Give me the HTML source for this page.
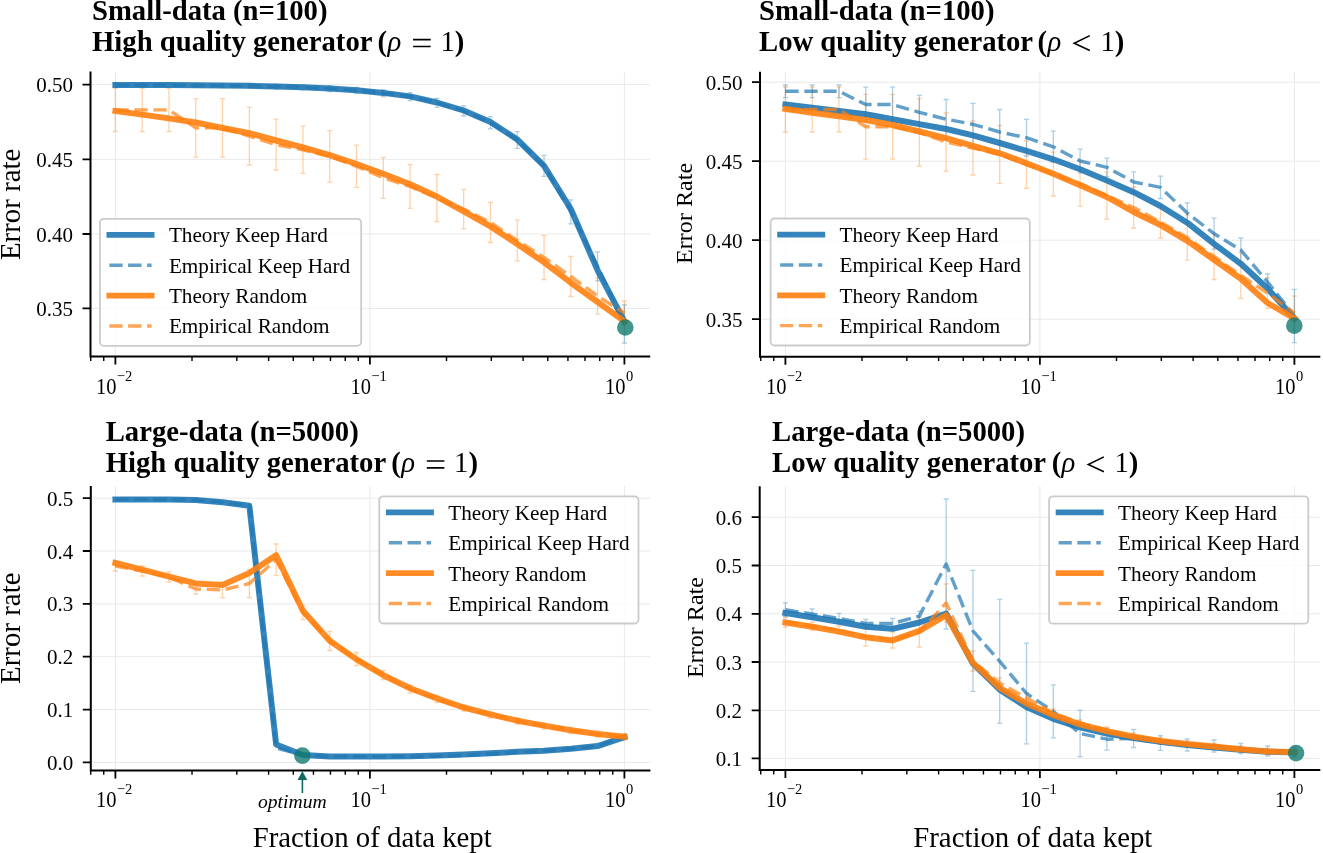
<!DOCTYPE html>
<html><head><meta charset="utf-8"><style>
html,body{margin:0;padding:0;background:#fff;}
svg{display:block;will-change:transform;}
text{font-family:"Liberation Serif",serif;fill:#000;}
.tk{font-size:20.5px;}
.tky{font-size:21px;}
.sup{font-size:14.5px;}
.lg{font-size:21.2px;}
.ti{font-size:28.7px;font-weight:bold;}
.mi{font-style:italic;font-weight:normal;}
.mr{font-weight:normal;}
.xl{font-size:28.8px;}
.opt{font-size:19.6px;font-style:italic;}
</style></head><body>
<svg width="1323" height="853" viewBox="0 0 1323 853">
<rect width="1323" height="853" fill="#fff"/>

<g stroke="#e9e9e9" stroke-width="1"><line x1="115.4" y1="71.5" x2="115.4" y2="356.5"/><line x1="369.9" y1="71.5" x2="369.9" y2="356.5"/><line x1="624.4" y1="71.5" x2="624.4" y2="356.5"/><line x1="90.5" y1="84.6" x2="650.2" y2="84.6"/><line x1="90.5" y1="159.3" x2="650.2" y2="159.3"/><line x1="90.5" y1="234" x2="650.2" y2="234"/><line x1="90.5" y1="308.4" x2="650.2" y2="308.4"/></g>
<path d="M115.4 88.3V131.5M112.9 88.3h5M112.9 131.5h5M142.19 88.3V131.5M139.69 88.3h5M139.69 131.5h5M168.98 88.3V131.5M166.48 88.3h5M166.48 131.5h5M195.77 98.7V157.1M193.27 98.7h5M193.27 157.1h5M222.56 98.7V157.1M220.06 98.7h5M220.06 157.1h5M249.35 107.4V165M246.85 107.4h5M246.85 165h5M276.14 119.2V170M273.64 119.2h5M273.64 170h5M302.93 126.2V173.4M300.43 126.2h5M300.43 173.4h5M329.72 130.7V182.1M327.22 130.7h5M327.22 182.1h5M356.51 145.2V187.4M354.01 145.2h5M354.01 187.4h5M383.3 157.4V198.4M380.8 157.4h5M380.8 198.4h5M410.09 164.6V208.4M407.59 164.6h5M407.59 208.4h5M436.88 174.5V221.5M434.38 174.5h5M434.38 221.5h5M463.67 189.3V228.7M461.17 189.3h5M461.17 228.7h5M490.46 202.5V242.5M487.96 202.5h5M487.96 242.5h5M517.25 220.1V260.9M514.75 220.1h5M514.75 260.9h5M544.04 235.5V279.5M541.54 235.5h5M541.54 279.5h5M570.83 256.5V296.5M568.33 256.5h5M568.33 296.5h5M597.62 277.8V314.2M595.12 277.8h5M595.12 314.2h5M624.41 301V325M621.91 301h5M621.91 325h5" stroke="#ff7f0e" stroke-opacity="0.36" stroke-width="1.3" fill="none"/>
<path d="M115.4 83.2V87.2M112.9 83.2h5M112.9 87.2h5M142.19 83.2V87.2M139.69 83.2h5M139.69 87.2h5M168.98 83.3V87.3M166.48 83.3h5M166.48 87.3h5M195.77 83.4V87.4M193.27 83.4h5M193.27 87.4h5M222.56 83.6V87.6M220.06 83.6h5M220.06 87.6h5M249.35 84V88M246.85 84h5M246.85 88h5M276.14 84.1V89.1M273.64 84.1h5M273.64 89.1h5M302.93 84.9V89.9M300.43 84.9h5M300.43 89.9h5M329.72 85.6V91.6M327.22 85.6h5M327.22 91.6h5M356.51 87.4V93.4M354.01 87.4h5M354.01 93.4h5M383.3 89.6V96.6M380.8 89.6h5M380.8 96.6h5M410.09 92.6V100.6M407.59 92.6h5M407.59 100.6h5M436.88 98.3V107.3M434.38 98.3h5M434.38 107.3h5M463.67 106V116M461.17 106h5M461.17 116h5M490.46 116.7V128.9M487.96 116.7h5M487.96 128.9h5M517.25 131.7V148.3M514.75 131.7h5M514.75 148.3h5M544.04 155.4V176.4M541.54 155.4h5M541.54 176.4h5M570.83 199.8V223.8M568.33 199.8h5M568.33 223.8h5M597.62 251.9V280.9M595.12 251.9h5M595.12 280.9h5M624.41 305V343M621.91 305h5M621.91 343h5" stroke="#1f77b4" stroke-opacity="0.36" stroke-width="1.3" fill="none"/>
<polyline points="115.4,85 142.19,85 168.98,85.1 195.77,85.2 222.56,85.4 249.35,85.8 276.14,86.4 302.93,87.2 329.72,88.4 356.51,90.2 383.3,92.9 410.09,96.4 436.88,102.5 463.67,110.5 490.46,121.9 517.25,139.5 544.04,165.9 570.83,209 597.62,270.4 624.41,321.4" fill="none" stroke="#1f77b4" stroke-opacity="0.9" stroke-width="6" stroke-linecap="square" stroke-linejoin="round"/>
<polyline points="115.4,85.2 142.19,85.2 168.98,85.3 195.77,85.4 222.56,85.6 249.35,86 276.14,86.6 302.93,87.4 329.72,88.6 356.51,90.4 383.3,93.1 410.09,96.6 436.88,102.8 463.67,111 490.46,122.8 517.25,140 544.04,165.9 570.83,211.8 597.62,266.4 624.41,324" fill="none" stroke="#1f77b4" stroke-opacity="0.7" stroke-width="3.4" stroke-dasharray="13.3 5.7" stroke-linejoin="round"/>
<polyline points="115.4,111 142.19,114.6 168.98,118.4 195.77,122.5 222.56,128 249.35,133.2 276.14,140.5 302.93,147.3 329.72,155.2 356.51,164 383.3,173.7 410.09,184.3 436.88,196.6 463.67,211.4 490.46,226.4 517.25,244 544.04,262.4 570.83,282.7 597.62,302 624.41,321.4" fill="none" stroke="#ff7f0e" stroke-opacity="0.9" stroke-width="6" stroke-linecap="square" stroke-linejoin="round"/>
<polyline points="115.4,109.9 142.19,109.9 168.98,109.9 195.77,127.9 222.56,127.9 249.35,136.2 276.14,144.6 302.93,149.8 329.72,156.4 356.51,166.3 383.3,177.9 410.09,186.5 436.88,198 463.67,209 490.46,222.5 517.25,240.5 544.04,257.5 570.83,276.5 597.62,296 624.41,313" fill="none" stroke="#ff7f0e" stroke-opacity="0.7" stroke-width="3.4" stroke-dasharray="13.3 5.7" stroke-linejoin="round"/>
<circle cx="625.3" cy="327.5" r="8.3" fill="#127a70" fill-opacity="0.8"/>
<path d="M90.5 71.5V356.5 H650.2" fill="none" stroke="#000" stroke-width="2"/>
<path d="M90.5 84.6h-8M90.5 159.3h-8M90.5 234h-8M90.5 308.4h-8M115.4 356.5v8M369.9 356.5v8M624.4 356.5v8" stroke="#000" stroke-width="1.8" fill="none"/>
<path d="M90.74 356.5v4.4M103.75 356.5v4.4M192.01 356.5v4.4M236.83 356.5v4.4M268.62 356.5v4.4M293.29 356.5v4.4M313.44 356.5v4.4M330.48 356.5v4.4M345.24 356.5v4.4M358.25 356.5v4.4M446.51 356.5v4.4M491.33 356.5v4.4M523.12 356.5v4.4M547.79 356.5v4.4M567.94 356.5v4.4M584.98 356.5v4.4M599.74 356.5v4.4M612.75 356.5v4.4" stroke="#000" stroke-width="1.4" fill="none"/>
<text x="72.9" y="92.1" text-anchor="end" class="tky">0.50</text>
<text x="72.9" y="166.8" text-anchor="end" class="tky">0.45</text>
<text x="72.9" y="241.5" text-anchor="end" class="tky">0.40</text>
<text x="72.9" y="315.9" text-anchor="end" class="tky">0.35</text>
<text transform="translate(116.4 393.5) scale(1 1.08)" text-anchor="end" class="tk">10</text>
<text transform="translate(116.9 380.5) scale(1 1.06)" class="sup">−2</text>
<text transform="translate(370.9 393.5) scale(1 1.08)" text-anchor="end" class="tk">10</text>
<text transform="translate(371.4 380.5) scale(1 1.06)" class="sup">−1</text>
<text transform="translate(625.4 393.5) scale(1 1.08)" text-anchor="end" class="tk">10</text>
<text transform="translate(625.9 380.5) scale(1 1.06)" class="sup">0</text>
<text transform="translate(19.5 204.3) rotate(-90)" text-anchor="middle" style="font-size:28.9px">Error rate</text>
<text x="92" y="20" class="ti">Small-data (n=100)</text>
<text x="92" y="51" class="ti">High quality generator</text>
<text x="377.6" y="51" class="ti">(</text>
<text x="387.5" y="51" class="ti mi">ρ</text>
<path d="M413.1 39.7h17.6M413.1 46.5h17.6" stroke="#000" stroke-width="1.7"/>
<text x="440.4" y="51" class="ti mr">1</text>
<text x="454.7" y="51" class="ti">)</text>
<rect x="99.9" y="218.8" width="261.3" height="127" rx="4" fill="#fff" fill-opacity="0.8" stroke="#cbcbcb" stroke-width="1.8"/>
<line x1="106.5" y1="234.9" x2="154.5" y2="234.9" stroke="#1f77b4" stroke-opacity="0.9" stroke-width="5.8"/>
<text x="168.9" y="242.3" class="lg">Theory Keep Hard</text>
<path d="M109.4 265.25h13.2M128.1 265.25h13.4M147.1 265.25h4.5" stroke="#1f77b4" stroke-opacity="0.7" stroke-width="3.4"/>
<text x="168.9" y="272.65" class="lg">Empirical Keep Hard</text>
<line x1="106.5" y1="295.6" x2="154.5" y2="295.6" stroke="#ff7f0e" stroke-opacity="0.9" stroke-width="5.8"/>
<text x="168.9" y="303" class="lg">Theory Random</text>
<path d="M109.4 325.95h13.2M128.1 325.95h13.4M147.1 325.95h4.5" stroke="#ff7f0e" stroke-opacity="0.7" stroke-width="3.4"/>
<text x="168.9" y="333.35" class="lg">Empirical Random</text>
<g stroke="#e9e9e9" stroke-width="1"><line x1="785.4" y1="71.8" x2="785.4" y2="356.7"/><line x1="1039.9" y1="71.8" x2="1039.9" y2="356.7"/><line x1="1294.4" y1="71.8" x2="1294.4" y2="356.7"/><line x1="760" y1="82.2" x2="1320.3" y2="82.2"/><line x1="760" y1="161.2" x2="1320.3" y2="161.2"/><line x1="760" y1="240.2" x2="1320.3" y2="240.2"/><line x1="760" y1="319.2" x2="1320.3" y2="319.2"/></g>
<path d="M785.4 87V132M782.9 87h5M782.9 132h5M812.19 87V132M809.69 87h5M809.69 132h5M838.98 87V132M836.48 87h5M836.48 132h5M865.77 94.3V159.1M863.27 94.3h5M863.27 159.1h5M892.56 94.3V159.1M890.06 94.3h5M890.06 159.1h5M919.35 98.6V166M916.85 98.6h5M916.85 166h5M946.14 113V171M943.64 113h5M943.64 171h5M972.93 121V175M970.43 121h5M970.43 175h5M999.72 125.4V183.4M997.22 125.4h5M997.22 183.4h5M1026.51 140.9V188.3M1024.01 140.9h5M1024.01 188.3h5M1053.3 152.2V196M1050.8 152.2h5M1050.8 196h5M1080.09 160.7V206.3M1077.59 160.7h5M1077.59 206.3h5M1106.88 172.2V219M1104.38 172.2h5M1104.38 219h5M1133.67 187V228M1131.17 187h5M1131.17 228h5M1160.46 206V238M1157.96 206h5M1157.96 238h5M1187.25 214.9V260.1M1184.75 214.9h5M1184.75 260.1h5M1214.04 233.5V279.5M1211.54 233.5h5M1211.54 279.5h5M1240.83 252.5V298.5M1238.33 252.5h5M1238.33 298.5h5M1267.62 277.8V308.4M1265.12 277.8h5M1265.12 308.4h5M1294.41 296V330M1291.91 296h5M1291.91 330h5" stroke="#ff7f0e" stroke-opacity="0.36" stroke-width="1.3" fill="none"/>
<path d="M785.4 85V97.6M782.9 85h5M782.9 97.6h5M812.19 85V97.6M809.69 85h5M809.69 97.6h5M838.98 85V97.6M836.48 85h5M836.48 97.6h5M865.77 87.2V121.8M863.27 87.2h5M863.27 121.8h5M892.56 87.2V121.8M890.06 87.2h5M890.06 121.8h5M919.35 95.4V129.2M916.85 95.4h5M916.85 129.2h5M946.14 99.5V138.9M943.64 99.5h5M943.64 138.9h5M972.93 103.3V145.3M970.43 103.3h5M970.43 145.3h5M999.72 109.5V154.5M997.22 109.5h5M997.22 154.5h5M1026.51 119.4V156M1024.01 119.4h5M1024.01 156h5M1053.3 131.2V162.4M1050.8 131.2h5M1050.8 162.4h5M1080.09 149.2V172.8M1077.59 149.2h5M1077.59 172.8h5M1106.88 158.2V176.4M1104.38 158.2h5M1104.38 176.4h5M1133.67 171.8V192.2M1131.17 171.8h5M1131.17 192.2h5M1160.46 176.1V198.5M1157.96 176.1h5M1157.96 198.5h5M1187.25 203V223M1184.75 203h5M1184.75 223h5M1214.04 218.2V249.2M1211.54 218.2h5M1211.54 249.2h5M1240.83 238V262M1238.33 238h5M1238.33 262h5M1267.62 274V290M1265.12 274h5M1265.12 290h5M1294.41 289.3V342.7M1291.91 289.3h5M1291.91 342.7h5" stroke="#1f77b4" stroke-opacity="0.36" stroke-width="1.3" fill="none"/>
<polyline points="785.4,104.5 812.19,107.8 838.98,111 865.77,114.3 892.56,119.2 919.35,124.1 946.14,129 972.93,135.3 999.72,143 1026.51,150.9 1053.3,159.3 1080.09,169.3 1106.88,180.5 1133.67,192.2 1160.46,206 1187.25,222.7 1214.04,243.8 1240.83,263.8 1267.62,288.5 1294.41,318.5" fill="none" stroke="#1f77b4" stroke-opacity="0.9" stroke-width="6" stroke-linecap="square" stroke-linejoin="round"/>
<polyline points="785.4,91.3 812.19,91.3 838.98,91.3 865.77,104.5 892.56,104.5 919.35,112.3 946.14,119.2 972.93,124.3 999.72,132 1026.51,137.7 1053.3,146.8 1080.09,161 1106.88,167.3 1133.67,182 1160.46,187.3 1187.25,213 1214.04,233.7 1240.83,250 1267.62,282 1294.41,316" fill="none" stroke="#1f77b4" stroke-opacity="0.7" stroke-width="3.4" stroke-dasharray="13.3 5.7" stroke-linejoin="round"/>
<polyline points="785.4,109 812.19,112.7 838.98,116.3 865.77,120 892.56,125 919.35,131.5 946.14,138.1 972.93,145.9 999.72,153.3 1026.51,163.2 1053.3,173.8 1080.09,185.3 1106.88,197 1133.67,212 1160.46,225 1187.25,240.8 1214.04,259.8 1240.83,278.8 1267.62,303 1294.41,318.3" fill="none" stroke="#ff7f0e" stroke-opacity="0.9" stroke-width="6" stroke-linecap="square" stroke-linejoin="round"/>
<polyline points="785.4,109.5 812.19,109.5 838.98,109.5 865.77,126.7 892.56,126.7 919.35,132.3 946.14,142 972.93,148 999.72,154.4 1026.51,164.6 1053.3,174.1 1080.09,183.5 1106.88,195.6 1133.67,207.5 1160.46,222 1187.25,237.5 1214.04,256.5 1240.83,275.5 1267.62,293.1 1294.41,313" fill="none" stroke="#ff7f0e" stroke-opacity="0.7" stroke-width="3.4" stroke-dasharray="13.3 5.7" stroke-linejoin="round"/>
<circle cx="1294.3" cy="325.7" r="8.3" fill="#127a70" fill-opacity="0.8"/>
<path d="M760 71.8V356.7 H1320.3" fill="none" stroke="#000" stroke-width="2"/>
<path d="M760 82.2h-8M760 161.2h-8M760 240.2h-8M760 319.2h-8M785.4 356.7v8M1039.9 356.7v8M1294.4 356.7v8" stroke="#000" stroke-width="1.8" fill="none"/>
<path d="M760.74 356.7v4.4M773.75 356.7v4.4M862.01 356.7v4.4M906.83 356.7v4.4M938.62 356.7v4.4M963.29 356.7v4.4M983.44 356.7v4.4M1000.48 356.7v4.4M1015.24 356.7v4.4M1028.25 356.7v4.4M1116.51 356.7v4.4M1161.33 356.7v4.4M1193.12 356.7v4.4M1217.79 356.7v4.4M1237.94 356.7v4.4M1254.98 356.7v4.4M1269.74 356.7v4.4M1282.75 356.7v4.4" stroke="#000" stroke-width="1.4" fill="none"/>
<text x="742.4" y="89.7" text-anchor="end" class="tky">0.50</text>
<text x="742.4" y="168.7" text-anchor="end" class="tky">0.45</text>
<text x="742.4" y="247.7" text-anchor="end" class="tky">0.40</text>
<text x="742.4" y="326.7" text-anchor="end" class="tky">0.35</text>
<text transform="translate(786.4 393.7) scale(1 1.08)" text-anchor="end" class="tk">10</text>
<text transform="translate(786.9 380.7) scale(1 1.06)" class="sup">−2</text>
<text transform="translate(1040.9 393.7) scale(1 1.08)" text-anchor="end" class="tk">10</text>
<text transform="translate(1041.4 380.7) scale(1 1.06)" class="sup">−1</text>
<text transform="translate(1295.4 393.7) scale(1 1.08)" text-anchor="end" class="tk">10</text>
<text transform="translate(1295.9 380.7) scale(1 1.06)" class="sup">0</text>
<text transform="translate(692.1 213.4) rotate(-90)" text-anchor="middle" style="font-size:24.1px">Error Rate</text>
<text x="759" y="20" class="ti">Small-data (n=100)</text>
<text x="759" y="51" class="ti">Low quality generator</text>
<text x="1037.6" y="51" class="ti">(</text>
<text x="1047.5" y="51" class="ti mi">ρ</text>
<path d="M1089.8 35.6L1074.2 43.2L1089.8 50.4" fill="none" stroke="#000" stroke-width="1.6" stroke-linejoin="miter"/>
<text x="1100.4" y="51" class="ti mr">1</text>
<text x="1114.7" y="51" class="ti">)</text>
<rect x="770.6" y="218.5" width="259.2" height="127" rx="4" fill="#fff" fill-opacity="0.8" stroke="#cbcbcb" stroke-width="1.8"/>
<line x1="777.2" y1="234.6" x2="825.2" y2="234.6" stroke="#1f77b4" stroke-opacity="0.9" stroke-width="5.8"/>
<text x="839.6" y="242" class="lg">Theory Keep Hard</text>
<path d="M780.1 264.95h13.2M798.8 264.95h13.4M817.8 264.95h4.5" stroke="#1f77b4" stroke-opacity="0.7" stroke-width="3.4"/>
<text x="839.6" y="272.35" class="lg">Empirical Keep Hard</text>
<line x1="777.2" y1="295.3" x2="825.2" y2="295.3" stroke="#ff7f0e" stroke-opacity="0.9" stroke-width="5.8"/>
<text x="839.6" y="302.7" class="lg">Theory Random</text>
<path d="M780.1 325.65h13.2M798.8 325.65h13.4M817.8 325.65h4.5" stroke="#ff7f0e" stroke-opacity="0.7" stroke-width="3.4"/>
<text x="839.6" y="333.05" class="lg">Empirical Random</text>
<g stroke="#e9e9e9" stroke-width="1"><line x1="115.4" y1="486" x2="115.4" y2="770.4"/><line x1="369.9" y1="486" x2="369.9" y2="770.4"/><line x1="624.4" y1="486" x2="624.4" y2="770.4"/><line x1="90.8" y1="762.4" x2="650.4" y2="762.4"/><line x1="90.8" y1="709.6" x2="650.4" y2="709.6"/><line x1="90.8" y1="656.7" x2="650.4" y2="656.7"/><line x1="90.8" y1="603.9" x2="650.4" y2="603.9"/><line x1="90.8" y1="551" x2="650.4" y2="551"/><line x1="90.8" y1="498.2" x2="650.4" y2="498.2"/></g>
<path d="M115.4 561V571M112.9 561h5M112.9 571h5M142.19 566V576M139.69 566h5M139.69 576h5M168.98 572V582M166.48 572h5M166.48 582h5M195.77 584V594M193.27 584h5M193.27 594h5M222.56 582.4V597.6M220.06 582.4h5M220.06 597.6h5M249.35 569.5V597.5M246.85 569.5h5M246.85 597.5h5M276.14 544V575.4M273.64 544h5M273.64 575.4h5M302.93 605.6V619.6M300.43 605.6h5M300.43 619.6h5M329.72 631.5V650.5M327.22 631.5h5M327.22 650.5h5M356.51 652.5V665.5M354.01 652.5h5M354.01 665.5h5M383.3 670.5V679.5M380.8 670.5h5M380.8 679.5h5M410.09 685V693M407.59 685h5M407.59 693h5M436.88 695.5V702.5M434.38 695.5h5M434.38 702.5h5M463.67 705V711M461.17 705h5M461.17 711h5M490.46 712V718M487.96 712h5M487.96 718h5M517.25 718V724M514.75 718h5M514.75 724h5M544.04 723V729M541.54 723h5M541.54 729h5M570.83 727.5V733.5M568.33 727.5h5M568.33 733.5h5M597.62 731.2V737.2M595.12 731.2h5M595.12 737.2h5M624.41 733.9V739.9M621.91 733.9h5M621.91 739.9h5" stroke="#ff7f0e" stroke-opacity="0.36" stroke-width="1.3" fill="none"/>
<path d="" stroke="#1f77b4" stroke-opacity="0.36" stroke-width="1.3" fill="none"/>
<polyline points="115.4,499.4 142.19,499.4 168.98,499.5 195.77,500 222.56,502.2 249.35,505.8 276.14,744.5 302.93,755 329.72,756.5 356.51,756.6 383.3,756.6 410.09,756.3 436.88,755.6 463.67,754.6 490.46,753.2 517.25,751.8 544.04,750.7 570.83,748.8 597.62,746.1 624.41,737.1" fill="none" stroke="#1f77b4" stroke-opacity="0.9" stroke-width="6" stroke-linecap="square" stroke-linejoin="round"/>
<polyline points="115.4,499.4 142.19,499.4 168.98,499.5 195.77,500 222.56,502.2 249.35,505.8 276.14,748 302.93,755 329.72,756.5 356.51,756.6 383.3,756.6 410.09,756.5 436.88,756.2 463.67,755.5 490.46,754 517.25,752.1 544.04,750.7 570.83,748.8 597.62,746.1 624.41,737.1" fill="none" stroke="#1f77b4" stroke-opacity="0.7" stroke-width="3.4" stroke-dasharray="13.3 5.7" stroke-linejoin="round"/>
<polyline points="115.4,563 142.19,569.7 168.98,576.7 195.77,583.4 222.56,584.9 249.35,572.9 276.14,555.2 302.93,610.7 329.72,640.8 356.51,659.4 383.3,675.2 410.09,688.3 436.88,698.4 463.67,707.5 490.46,714.4 517.25,720.7 544.04,725.6 570.83,730.2 597.62,734 624.41,736.7" fill="none" stroke="#ff7f0e" stroke-opacity="0.9" stroke-width="6" stroke-linecap="square" stroke-linejoin="round"/>
<polyline points="115.4,566 142.19,571 168.98,577 195.77,589 222.56,590 249.35,583.5 276.14,559.7 302.93,612.6 329.72,641 356.51,659 383.3,675 410.09,689 436.88,699 463.67,708 490.46,715 517.25,721 544.04,726 570.83,730.5 597.62,734.2 624.41,736.9" fill="none" stroke="#ff7f0e" stroke-opacity="0.7" stroke-width="3.4" stroke-dasharray="13.3 5.7" stroke-linejoin="round"/>
<circle cx="302.4" cy="755.6" r="8.3" fill="#127a70" fill-opacity="0.8"/>
<path d="M90.8 486V770.4 H650.4" fill="none" stroke="#000" stroke-width="2"/>
<path d="M90.8 762.4h-8M90.8 709.6h-8M90.8 656.7h-8M90.8 603.9h-8M90.8 551h-8M90.8 498.2h-8M115.4 770.4v8M369.9 770.4v8M624.4 770.4v8" stroke="#000" stroke-width="1.8" fill="none"/>
<path d="M90.74 770.4v4.4M103.75 770.4v4.4M192.01 770.4v4.4M236.83 770.4v4.4M268.62 770.4v4.4M293.29 770.4v4.4M313.44 770.4v4.4M330.48 770.4v4.4M345.24 770.4v4.4M358.25 770.4v4.4M446.51 770.4v4.4M491.33 770.4v4.4M523.12 770.4v4.4M547.79 770.4v4.4M567.94 770.4v4.4M584.98 770.4v4.4M599.74 770.4v4.4M612.75 770.4v4.4" stroke="#000" stroke-width="1.4" fill="none"/>
<text x="73.2" y="769.9" text-anchor="end" class="tky">0.0</text>
<text x="73.2" y="717.1" text-anchor="end" class="tky">0.1</text>
<text x="73.2" y="664.2" text-anchor="end" class="tky">0.2</text>
<text x="73.2" y="611.4" text-anchor="end" class="tky">0.3</text>
<text x="73.2" y="558.5" text-anchor="end" class="tky">0.4</text>
<text x="73.2" y="505.7" text-anchor="end" class="tky">0.5</text>
<text transform="translate(116.4 807.4) scale(1 1.08)" text-anchor="end" class="tk">10</text>
<text transform="translate(116.9 794.4) scale(1 1.06)" class="sup">−2</text>
<text transform="translate(370.9 807.4) scale(1 1.08)" text-anchor="end" class="tk">10</text>
<text transform="translate(371.4 794.4) scale(1 1.06)" class="sup">−1</text>
<text transform="translate(625.4 807.4) scale(1 1.08)" text-anchor="end" class="tk">10</text>
<text transform="translate(625.9 794.4) scale(1 1.06)" class="sup">0</text>
<text transform="translate(20.3 628.2) rotate(-90)" text-anchor="middle" style="font-size:28.9px">Error rate</text>
<text x="105.7" y="441.3" class="ti">Large-data (n=5000)</text>
<text x="105.7" y="472.3" class="ti">High quality generator</text>
<text x="391.3" y="472.3" class="ti">(</text>
<text x="401.2" y="472.3" class="ti mi">ρ</text>
<path d="M426.8 461h17.6M426.8 467.8h17.6" stroke="#000" stroke-width="1.7"/>
<text x="454.1" y="472.3" class="ti mr">1</text>
<text x="468.4" y="472.3" class="ti">)</text>
<rect x="379.3" y="496.3" width="259.2" height="127.2" rx="4" fill="#fff" fill-opacity="0.8" stroke="#cbcbcb" stroke-width="1.8"/>
<line x1="385.9" y1="512.4" x2="433.9" y2="512.4" stroke="#1f77b4" stroke-opacity="0.9" stroke-width="5.8"/>
<text x="448.3" y="519.8" class="lg">Theory Keep Hard</text>
<path d="M388.8 542.75h13.2M407.5 542.75h13.4M426.5 542.75h4.5" stroke="#1f77b4" stroke-opacity="0.7" stroke-width="3.4"/>
<text x="448.3" y="550.15" class="lg">Empirical Keep Hard</text>
<line x1="385.9" y1="573.1" x2="433.9" y2="573.1" stroke="#ff7f0e" stroke-opacity="0.9" stroke-width="5.8"/>
<text x="448.3" y="580.5" class="lg">Theory Random</text>
<path d="M388.8 603.45h13.2M407.5 603.45h13.4M426.5 603.45h4.5" stroke="#ff7f0e" stroke-opacity="0.7" stroke-width="3.4"/>
<text x="448.3" y="610.85" class="lg">Empirical Random</text>
<g stroke="#e9e9e9" stroke-width="1"><line x1="785.4" y1="486.2" x2="785.4" y2="770"/><line x1="1039.9" y1="486.2" x2="1039.9" y2="770"/><line x1="1294.4" y1="486.2" x2="1294.4" y2="770"/><line x1="759.7" y1="758.3" x2="1320.3" y2="758.3"/><line x1="759.7" y1="710.3" x2="1320.3" y2="710.3"/><line x1="759.7" y1="662" x2="1320.3" y2="662"/><line x1="759.7" y1="613.8" x2="1320.3" y2="613.8"/><line x1="759.7" y1="565.5" x2="1320.3" y2="565.5"/><line x1="759.7" y1="517.2" x2="1320.3" y2="517.2"/></g>
<path d="M785.4 617V627M782.9 617h5M782.9 627h5M812.19 622V630M809.69 622h5M809.69 630h5M838.98 626V634M836.48 626h5M836.48 634h5M865.77 628V646M863.27 628h5M863.27 646h5M892.56 632V648M890.06 632h5M890.06 648h5M919.35 617V647M916.85 617h5M916.85 647h5M946.14 584V622M943.64 584h5M943.64 622h5M972.93 651V671M970.43 651h5M970.43 671h5M999.72 678V688M997.22 678h5M997.22 688h5M1026.51 693V703M1024.01 693h5M1024.01 703h5M1053.3 709V717M1050.8 709h5M1050.8 717h5M1080.09 720V726M1077.59 720h5M1077.59 726h5M1106.88 727V733M1104.38 727h5M1104.38 733h5M1133.67 733V739M1131.17 733h5M1131.17 739h5M1160.46 737.5V743.5M1157.96 737.5h5M1157.96 743.5h5M1187.25 741V747M1184.75 741h5M1184.75 747h5M1214.04 743.5V749.5M1211.54 743.5h5M1211.54 749.5h5M1240.83 746V752M1238.33 746h5M1238.33 752h5M1267.62 748.5V754.5M1265.12 748.5h5M1265.12 754.5h5M1294.41 749V755M1291.91 749h5M1291.91 755h5" stroke="#ff7f0e" stroke-opacity="0.36" stroke-width="1.3" fill="none"/>
<path d="M785.4 602.8V616.8M782.9 602.8h5M782.9 616.8h5M812.19 609V619M809.69 609h5M809.69 619h5M838.98 613.3V623.3M836.48 613.3h5M836.48 623.3h5M865.77 619.5V627.5M863.27 619.5h5M863.27 627.5h5M892.56 618.5V628.5M890.06 618.5h5M890.06 628.5h5M919.35 611.1V621.1M916.85 611.1h5M916.85 621.1h5M946.14 499V629M943.64 499h5M943.64 629h5M972.93 570.4V691.4M970.43 570.4h5M970.43 691.4h5M999.72 599.3V723.3M997.22 599.3h5M997.22 723.3h5M1026.51 643.2V743.8M1024.01 643.2h5M1024.01 743.8h5M1053.3 684.9V737.9M1050.8 684.9h5M1050.8 737.9h5M1080.09 710.3V756.7M1077.59 710.3h5M1077.59 756.7h5M1106.88 728.2V750.2M1104.38 728.2h5M1104.38 750.2h5M1133.67 729.5V747.5M1131.17 729.5h5M1131.17 747.5h5M1160.46 735.6V750.4M1157.96 735.6h5M1157.96 750.4h5M1187.25 739V751M1184.75 739h5M1184.75 751h5M1214.04 740V752M1211.54 740h5M1211.54 752h5M1240.83 743.5V753.5M1238.33 743.5h5M1238.33 753.5h5M1267.62 746V756M1265.12 746h5M1265.12 756h5M1294.41 747V757M1291.91 747h5M1291.91 757h5" stroke="#1f77b4" stroke-opacity="0.36" stroke-width="1.3" fill="none"/>
<polyline points="785.4,613 812.19,617.2 838.98,621.8 865.77,626.7 892.56,628.8 919.35,622.5 946.14,613.5 972.93,663.7 999.72,689.7 1026.51,707 1053.3,718.8 1080.09,727.4 1106.88,733.5 1133.67,738 1160.46,741.8 1187.25,745 1214.04,747.5 1240.83,749.7 1267.62,751.8 1294.41,752.5" fill="none" stroke="#1f77b4" stroke-opacity="0.9" stroke-width="6" stroke-linecap="square" stroke-linejoin="round"/>
<polyline points="785.4,609.8 812.19,614 838.98,618.3 865.77,623.5 892.56,623.5 919.35,616.1 946.14,564 972.93,630.9 999.72,661.3 1026.51,693.5 1053.3,711.4 1080.09,733.5 1106.88,739.2 1133.67,738.5 1160.46,743 1187.25,745 1214.04,746 1240.83,748.5 1267.62,751 1294.41,752" fill="none" stroke="#1f77b4" stroke-opacity="0.7" stroke-width="3.4" stroke-dasharray="13.3 5.7" stroke-linejoin="round"/>
<polyline points="785.4,622.5 812.19,626.7 838.98,631.6 865.77,637.3 892.56,640.4 919.35,630.9 946.14,615.2 972.93,662.9 999.72,687.9 1026.51,703.5 1053.3,715.1 1080.09,724.4 1106.88,731.1 1133.67,736.7 1160.46,740.9 1187.25,744.1 1214.04,746.5 1240.83,749.2 1267.62,751.5 1294.41,752.1" fill="none" stroke="#ff7f0e" stroke-opacity="0.9" stroke-width="6" stroke-linecap="square" stroke-linejoin="round"/>
<polyline points="785.4,622 812.19,626 838.98,630 865.77,637 892.56,640 919.35,632 946.14,603 972.93,661 999.72,683 1026.51,698 1053.3,713 1080.09,723 1106.88,730 1133.67,736 1160.46,740.5 1187.25,744 1214.04,746.5 1240.83,749 1267.62,751.5 1294.41,752" fill="none" stroke="#ff7f0e" stroke-opacity="0.7" stroke-width="3.4" stroke-dasharray="13.3 5.7" stroke-linejoin="round"/>
<circle cx="1296.1" cy="753.1" r="8.3" fill="#127a70" fill-opacity="0.8"/>
<path d="M759.7 486.2V770 H1320.3" fill="none" stroke="#000" stroke-width="2"/>
<path d="M759.7 758.3h-8M759.7 710.3h-8M759.7 662h-8M759.7 613.8h-8M759.7 565.5h-8M759.7 517.2h-8M785.4 770v8M1039.9 770v8M1294.4 770v8" stroke="#000" stroke-width="1.8" fill="none"/>
<path d="M760.74 770v4.4M773.75 770v4.4M862.01 770v4.4M906.83 770v4.4M938.62 770v4.4M963.29 770v4.4M983.44 770v4.4M1000.48 770v4.4M1015.24 770v4.4M1028.25 770v4.4M1116.51 770v4.4M1161.33 770v4.4M1193.12 770v4.4M1217.79 770v4.4M1237.94 770v4.4M1254.98 770v4.4M1269.74 770v4.4M1282.75 770v4.4" stroke="#000" stroke-width="1.4" fill="none"/>
<text x="742.1" y="765.8" text-anchor="end" class="tky">0.1</text>
<text x="742.1" y="717.8" text-anchor="end" class="tky">0.2</text>
<text x="742.1" y="669.5" text-anchor="end" class="tky">0.3</text>
<text x="742.1" y="621.3" text-anchor="end" class="tky">0.4</text>
<text x="742.1" y="573" text-anchor="end" class="tky">0.5</text>
<text x="742.1" y="524.7" text-anchor="end" class="tky">0.6</text>
<text transform="translate(786.4 807) scale(1 1.08)" text-anchor="end" class="tk">10</text>
<text transform="translate(786.9 794) scale(1 1.06)" class="sup">−2</text>
<text transform="translate(1040.9 807) scale(1 1.08)" text-anchor="end" class="tk">10</text>
<text transform="translate(1041.4 794) scale(1 1.06)" class="sup">−1</text>
<text transform="translate(1295.4 807) scale(1 1.08)" text-anchor="end" class="tk">10</text>
<text transform="translate(1295.9 794) scale(1 1.06)" class="sup">0</text>
<text transform="translate(702.8 627.5) rotate(-90)" text-anchor="middle" style="font-size:24.1px">Error Rate</text>
<text x="772" y="441.3" class="ti">Large-data (n=5000)</text>
<text x="772" y="472.3" class="ti">Low quality generator</text>
<text x="1051.7" y="472.3" class="ti">(</text>
<text x="1061.6" y="472.3" class="ti mi">ρ</text>
<path d="M1103.9 456.9L1088.3 464.5L1103.9 471.7" fill="none" stroke="#000" stroke-width="1.6" stroke-linejoin="miter"/>
<text x="1114.5" y="472.3" class="ti mr">1</text>
<text x="1128.8" y="472.3" class="ti">)</text>
<rect x="1049.1" y="496.3" width="259.2" height="127.4" rx="4" fill="#fff" fill-opacity="0.8" stroke="#cbcbcb" stroke-width="1.8"/>
<line x1="1055.7" y1="512.4" x2="1103.7" y2="512.4" stroke="#1f77b4" stroke-opacity="0.9" stroke-width="5.8"/>
<text x="1118.1" y="519.8" class="lg">Theory Keep Hard</text>
<path d="M1058.6 542.75h13.2M1077.3 542.75h13.4M1096.3 542.75h4.5" stroke="#1f77b4" stroke-opacity="0.7" stroke-width="3.4"/>
<text x="1118.1" y="550.15" class="lg">Empirical Keep Hard</text>
<line x1="1055.7" y1="573.1" x2="1103.7" y2="573.1" stroke="#ff7f0e" stroke-opacity="0.9" stroke-width="5.8"/>
<text x="1118.1" y="580.5" class="lg">Theory Random</text>
<path d="M1058.6 603.45h13.2M1077.3 603.45h13.4M1096.3 603.45h4.5" stroke="#ff7f0e" stroke-opacity="0.7" stroke-width="3.4"/>
<text x="1118.1" y="610.85" class="lg">Empirical Random</text>
<path d="M302.4 793V779" stroke="#0f6b5f" stroke-width="1.6"/>
<path d="M302.4 771L297.6 780H307.2Z" fill="#0f6b5f"/>
<text x="258" y="807.5" class="opt">optimum</text>
<text x="372.2" y="846.5" text-anchor="middle" class="xl">Fraction of data kept</text>
<text x="1032.8" y="846.5" text-anchor="middle" class="xl">Fraction of data kept</text>
</svg></body></html>
